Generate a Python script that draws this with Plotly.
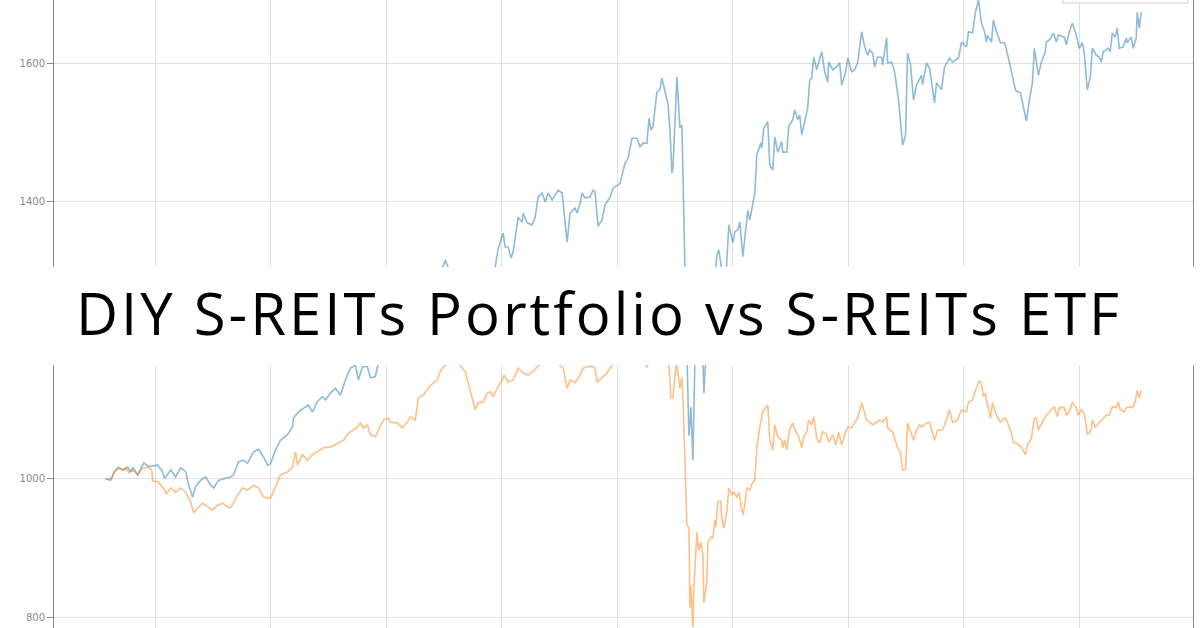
import plotly.graph_objects as go

# ---- data (trading-day index, portfolio value) ----
diy_day = [0, 5, 8, 13, 18, 22, 25, 27, 32, 38, 43, 52, 56, 59, 65, 70, 75, 80, 83, 87, 90, 95, 100, 105, 108, 113, 120, 125, 128, 133, 138, 142, 148, 153, 158, 162, 165, 170, 175, 182, 187, 188, 193, 198, 203, 207, 212, 217, 220, 225, 230, 235, 240, 245, 250, 253, 257, 262, 265, 270, 272, 280, 290, 300, 310, 320, 330, 336, 340, 343, 350, 360, 370, 380, 387, 390, 393, 398, 400, 403, 406, 408, 413, 417, 418, 422, 427, 430, 433, 437, 440, 443, 447, 450, 453, 457, 460, 462, 465, 470, 472, 475, 477, 480, 485, 488, 490, 493, 497, 500, 505, 508, 515, 520, 523, 527, 532, 535, 538, 542, 544, 546, 548, 552, 555, 557, 562, 563, 565, 567, 568, 572, 575, 577, 580, 582, 584, 585, 586, 588, 590, 593, 596, 598, 599, 601, 605, 609, 612, 614, 617, 621, 624, 628, 630, 633, 635, 638, 643, 645, 650, 652, 656, 657, 659, 663, 665, 668, 670, 673, 677, 678, 682, 684, 688, 690, 693, 695, 697, 700, 703, 705, 707, 709, 712, 717, 720, 723, 724, 728, 732, 735, 737, 741, 743, 747, 750, 753, 757, 760, 763, 765, 768, 770, 773, 777, 778, 782, 783, 787, 790, 794, 798, 801, 803, 806, 809, 812, 817, 818, 822, 825, 830, 832, 837, 840, 845, 848, 854, 857, 862, 864, 868, 871, 874, 877, 880, 882, 883, 887, 889, 892, 896, 900, 902, 906, 909, 911, 913, 916, 919, 922, 925, 928, 930, 934, 937, 941, 942, 945, 949, 952, 954, 960, 962, 965, 968, 972, 975, 978, 980, 983, 986, 988, 992, 995, 997, 999, 1002, 1004, 1006, 1008, 1011, 1013, 1015, 1019, 1022, 1023, 1027, 1029, 1032, 1033, 1035, 1037]
diy_value = [1000, 998, 1009, 1016, 1013, 1017, 1010, 1017, 1006, 1023, 1018, 1020, 1013, 1001, 1013, 1003, 1016, 1011, 991, 974, 989, 998, 1003, 991, 987, 998, 1001, 1003, 1006, 1025, 1027, 1023, 1039, 1043, 1032, 1020, 1022, 1042, 1056, 1064, 1075, 1088, 1097, 1102, 1107, 1097, 1112, 1119, 1114, 1124, 1131, 1121, 1143, 1160, 1164, 1143, 1162, 1162, 1146, 1148, 1162, 1185, 1205, 1225, 1240, 1262, 1290, 1300, 1316, 1306, 1280, 1265, 1255, 1270, 1290, 1306, 1333, 1355, 1335, 1335, 1319, 1328, 1378, 1371, 1384, 1370, 1367, 1378, 1407, 1413, 1400, 1413, 1403, 1410, 1417, 1413, 1364, 1342, 1384, 1391, 1384, 1398, 1413, 1406, 1407, 1417, 1415, 1365, 1374, 1396, 1407, 1420, 1427, 1456, 1463, 1492, 1492, 1480, 1485, 1485, 1521, 1504, 1509, 1559, 1562, 1579, 1547, 1543, 1504, 1442, 1449, 1581, 1507, 1511, 1306, 1200, 1063, 1080, 1104, 1027, 1170, 1220, 1200, 1170, 1124, 1180, 1240, 1280, 1323, 1331, 1300, 1290, 1367, 1341, 1357, 1360, 1371, 1321, 1388, 1374, 1413, 1468, 1485, 1478, 1507, 1516, 1453, 1446, 1494, 1472, 1487, 1472, 1472, 1509, 1519, 1533, 1519, 1526, 1497, 1516, 1536, 1576, 1579, 1609, 1591, 1617, 1588, 1573, 1602, 1591, 1595, 1601, 1569, 1588, 1608, 1588, 1591, 1601, 1646, 1624, 1612, 1620, 1615, 1595, 1609, 1609, 1598, 1637, 1601, 1602, 1588, 1547, 1482, 1497, 1615, 1598, 1547, 1569, 1583, 1569, 1601, 1593, 1543, 1572, 1562, 1595, 1608, 1602, 1608, 1631, 1624, 1646, 1644, 1674, 1692, 1658, 1646, 1631, 1641, 1631, 1663, 1646, 1630, 1630, 1620, 1595, 1576, 1562, 1559, 1558, 1537, 1517, 1547, 1572, 1622, 1583, 1602, 1617, 1631, 1634, 1644, 1631, 1641, 1638, 1627, 1646, 1658, 1641, 1622, 1630, 1615, 1562, 1581, 1622, 1612, 1609, 1602, 1617, 1620, 1622, 1617, 1644, 1638, 1651, 1622, 1624, 1637, 1630, 1638, 1622, 1637, 1674, 1651, 1674]

etf_day = [0, 6, 8, 12, 17, 20, 23, 27, 32, 37, 43, 46, 47, 52, 57, 61, 65, 70, 75, 80, 85, 88, 92, 97, 102, 107, 112, 117, 122, 125, 132, 137, 142, 148, 153, 158, 165, 170, 175, 182, 187, 190, 192, 197, 202, 207, 212, 218, 225, 232, 238, 243, 248, 252, 255, 258, 262, 265, 270, 273, 278, 283, 285, 292, 297, 302, 305, 310, 313, 318, 323, 328, 332, 335, 338, 345, 353, 360, 363, 367, 370, 373, 378, 382, 385, 388, 392, 397, 399, 403, 408, 413, 418, 423, 428, 432, 440, 450, 458, 462, 465, 470, 475, 478, 482, 487, 490, 492, 497, 502, 505, 515, 525, 535, 542, 550, 560, 564, 566, 568, 571, 572, 575, 577, 578, 580, 582, 584, 585, 586, 588, 589, 591, 592, 594, 596, 598, 599, 602, 603, 606, 608, 610, 611, 613, 616, 617, 619, 622, 624, 627, 629, 632, 634, 638, 640, 642, 645, 648, 650, 652, 655, 658, 662, 663, 665, 668, 670, 673, 677, 678, 680, 682, 685, 688, 692, 694, 697, 699, 702, 704, 707, 709, 712, 715, 718, 722, 724, 728, 731, 734, 737, 740, 743, 747, 750, 753, 757, 760, 762, 765, 768, 772, 775, 778, 782, 783, 788, 793, 796, 798, 801, 803, 807, 809, 812, 815, 817, 822, 825, 828, 830, 833, 838, 841, 845, 848, 853, 857, 862, 864, 868, 871, 875, 877, 879, 881, 882, 886, 888, 892, 896, 900, 902, 907, 909, 912, 917, 921, 923, 927, 930, 932, 934, 938, 942, 947, 950, 953, 955, 960, 962, 965, 968, 972, 974, 977, 980, 983, 987, 988, 991, 995, 999, 1002, 1005, 1008, 1012, 1014, 1016, 1020, 1022, 1026, 1028, 1031, 1033, 1035, 1037]
etf_value = [1000, 1001, 1009, 1017, 1013, 1017, 1009, 1013, 1006, 1016, 1017, 1013, 997, 996, 988, 979, 987, 981, 987, 981, 967, 951, 958, 965, 960, 955, 962, 965, 960, 958, 977, 987, 984, 991, 987, 974, 972, 988, 1006, 1010, 1017, 1039, 1020, 1035, 1027, 1035, 1039, 1045, 1046, 1052, 1056, 1066, 1071, 1075, 1081, 1074, 1078, 1064, 1061, 1071, 1085, 1088, 1082, 1081, 1074, 1082, 1090, 1085, 1117, 1121, 1131, 1139, 1143, 1155, 1162, 1170, 1168, 1155, 1139, 1119, 1100, 1110, 1111, 1124, 1126, 1119, 1131, 1143, 1150, 1140, 1143, 1160, 1153, 1150, 1155, 1162, 1172, 1170, 1160, 1131, 1143, 1139, 1150, 1160, 1162, 1163, 1160, 1140, 1146, 1153, 1160, 1180, 1190, 1175, 1162, 1185, 1195, 1165, 1117, 1117, 1162, 1165, 1131, 1147, 1121, 1020, 934, 929, 814, 847, 786, 843, 912, 923, 897, 909, 890, 821, 851, 908, 916, 915, 941, 931, 967, 968, 941, 929, 952, 987, 977, 981, 973, 981, 948, 962, 987, 984, 996, 998, 1045, 1075, 1097, 1104, 1107, 1056, 1042, 1078, 1061, 1056, 1045, 1056, 1042, 1071, 1081, 1066, 1061, 1045, 1061, 1068, 1085, 1078, 1090, 1059, 1052, 1068, 1064, 1053, 1064, 1049, 1068, 1049, 1064, 1075, 1074, 1081, 1088, 1110, 1097, 1085, 1082, 1078, 1082, 1085, 1082, 1090, 1074, 1068, 1045, 1038, 1013, 1014, 1081, 1066, 1056, 1071, 1078, 1075, 1081, 1082, 1068, 1056, 1070, 1071, 1082, 1100, 1082, 1085, 1100, 1097, 1111, 1114, 1128, 1142, 1136, 1119, 1124, 1114, 1088, 1110, 1092, 1082, 1088, 1086, 1066, 1053, 1052, 1046, 1035, 1049, 1059, 1088, 1088, 1071, 1082, 1092, 1100, 1104, 1090, 1103, 1103, 1092, 1097, 1111, 1103, 1092, 1100, 1095, 1064, 1071, 1085, 1075, 1082, 1088, 1092, 1092, 1104, 1103, 1111, 1100, 1097, 1103, 1104, 1103, 1111, 1128, 1117, 1128]

y_ticks = [800, 1000, 1200, 1400, 1600]
title_text = "DIY S-REITs Portfolio vs S-REITs ETF"

# ---- figure ----
span = max(diy_day[-1], etf_day[-1]) - 0
x_lo = -0.05 * span
x_hi = 1.05 * span

fig = go.Figure()
fig.add_trace(go.Scatter(x=diy_day, y=diy_value, mode="lines", name="DIY S-REITs Portfolio",
                         line=dict(color="rgba(31,119,180,0.5)", width=1.6), showlegend=False))
fig.add_trace(go.Scatter(x=etf_day, y=etf_value, mode="lines", name="S-REITs ETF",
                         line=dict(color="rgba(255,127,14,0.5)", width=1.6), showlegend=False))

fig.update_layout(
    width=1200, height=628,
    margin=dict(l=54, r=7, t=0, b=0, pad=0),
    plot_bgcolor="white", paper_bgcolor="white",
    xaxis=dict(range=[x_lo, x_hi], showgrid=True, gridcolor="#e0e0e0", gridwidth=1,
               tick0=49.3, dtick=115.7, showticklabels=False, ticks="", zeroline=False,
               showline=False),
    yaxis=dict(range=[784.8, 1691.7], tickvals=y_ticks, ticktext=[str(v) for v in y_ticks],
               showgrid=True, gridcolor="#e0e0e0", gridwidth=1, zeroline=False,
               showline=True, linecolor="#8a8a8a", linewidth=1, mirror=True,
               ticks="outside", ticklen=6, tickcolor="#8a8a8a", tickwidth=1,
               tickfont=dict(family="DejaVu Sans", size=10, color="#8a8a8a")),
    font=dict(family="DejaVu Sans"),
)

# legend box (mostly above the visible area)
fig.add_shape(type="rect", xref="x", yref="y", x0=958.6, x1=1083.8, y0=1687.4, y1=1760,
              line=dict(color="#d0d0d0", width=1), fillcolor="white", layer="above")

# title banner
fig.add_shape(type="rect", xref="paper", yref="paper",
              x0=-54 / 1139, x1=1 + 7 / 1139, y0=1 - 365 / 628, y1=1 - 267 / 628,
              line=dict(width=0), fillcolor="white", layer="above")
fig.add_annotation(text='<span style="letter-spacing:3px">' + title_text + '</span>',
                   xref="paper", yref="paper",
                   x=(599 - 54) / 1139, y=1 - 313 / 628, xanchor="center", yanchor="middle",
                   showarrow=False, font=dict(family="Open Sans", size=58, color="black"))

fig.write_html("out.html", config={"displayModeBar": False},
               post_script="document.body.style.margin='0px';")
